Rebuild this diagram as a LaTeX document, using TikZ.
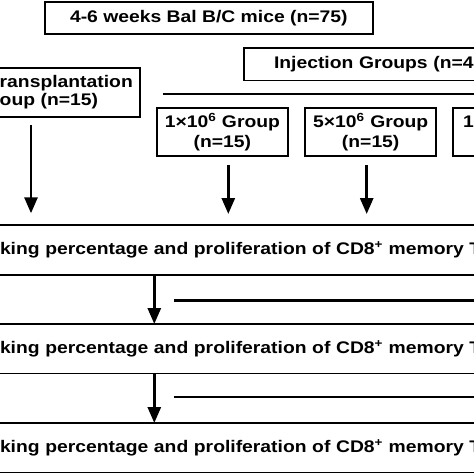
\documentclass[tikz,border=0pt]{standalone}
\usepackage{fontspec}
\setmainfont{Liberation Sans}[FakeStretch=1.15]
\usetikzlibrary{arrows.meta,positioning}

\begin{document}
\begin{tikzpicture}[x=1pt,y=-1pt,
    every node/.style={font=\fontsize{16.8}{19}\selectfont\bfseries},
    box/.style={draw,line width=1.8pt,inner ysep=0pt,outer sep=0pt},
    grp/.style={box,minimum height=48.3pt,inner xsep=4pt,text width=122.8pt,align=center,
      font=\fontsize{16.8}{20}\selectfont\bfseries},
    band/.style={box,minimum height=49.4pt,inner xsep=8pt,text width=560pt,align=left}]
      \useasboundingbox (0,0) rectangle (474,474);
      \clip (0,0) rectangle (474,474);
      \begin{scope}[every node/.append style={box}]
        \node (mice) [minimum width=328pt,minimum height=32.3pt] at (208.8,17.9) {4-6 weeks Bal B/C mice (n=75)};
        \node (inj) [anchor=west,minimum height=32.8pt,inner xsep=30.3pt,text width=300pt,align=left] at (243.7,64) {Injection Groups (n=4};
        \node (trans) [anchor=north east,minimum height=49.3pt,inner xsep=8pt,text width=132pt,align=left,
          font=\fontsize{16.8}{18}\selectfont\bfseries] at (139.7,67.8) {ransplantation\\oup (n=15)};
        \node (g1) [grp,anchor=north west] at (157,107.7) {1×10\textsuperscript{6} Group\\(n=15)};
        \node (g2) [grp,right=17.5pt of g1] {5×10\textsuperscript{6} Group\\(n=15)};
        \node (g3) [grp,right=17pt of g2,inner xsep=10pt,text width=110.8pt,align=left] {\vphantom{1\textsuperscript{6}}1\\\vphantom{(}};
        \node (b1) [band,anchor=west] at (-8,250) {king percentage and proliferation of CD8\textsuperscript{+} memory T};
        \node (b2) [band,below=49.3pt of b1] {king percentage and proliferation of CD8\textsuperscript{+} memory T};
        \node (b3) [band,below=49.6pt of b2] {king percentage and proliferation of CD8\textsuperscript{+} memory T};
      \end{scope}
      % where the arrows and lines run
      \coordinate (tx) at (31,0);
      \coordinate (g1x) at (228.3,0);
      \coordinate (g2x) at (366.7,0);
      \coordinate (bx) at (154.3,0);
      \coordinate (sp) at (162.7,93.7);
      \coordinate (spe) at (480,93.7);
      \coordinate (s1) at (174,300.3);
      \coordinate (s1e) at (480,300.3);
      \coordinate (s2) at (174,397);
      \coordinate (s2e) at (480,397);
      \begin{scope}
        [every edge/.style={draw=black,line width=2.8pt,-{Triangle[length=16pt,width=13pt]}}]
        \path (trans.south -| tx) edge[shorten <=8pt,shorten >=12pt] (b1.north -| tx);
        \path (g1.south -| g1x) edge[shorten <=9pt,shorten >=11.3pt] (b1.north -| g1x);
        \path (g2.south -| g2x) edge[shorten <=9pt,shorten >=11.3pt] (b1.north -| g2x);
        \path (b1.south -| bx) edge (b2.north -| bx);
        \path (b2.south -| bx) edge (b3.north -| bx);
      \end{scope}
      \draw[line width=2.2pt] (sp) -- (spe);
      \draw[line width=2.4pt] (s1) -- (s1e);
      \draw[line width=2.4pt] (s2) -- (s2e);
    \end{tikzpicture}
\end{document}
